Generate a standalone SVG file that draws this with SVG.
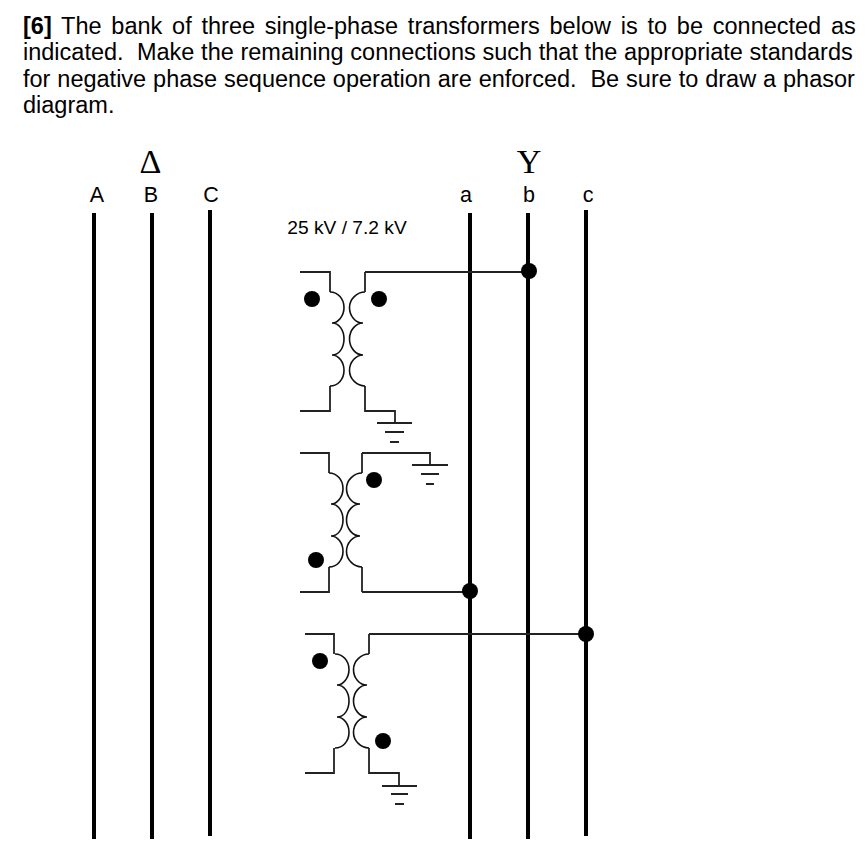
<svg xmlns="http://www.w3.org/2000/svg" width="868" height="867" viewBox="0 0 868 867">
<style>
text{font-family:"Liberation Sans",Arial,sans-serif;fill:#000}
.p{font-size:23.5px;white-space:pre}
.l{font-size:21.5px;text-anchor:middle}
.v{font-size:19.2px;text-anchor:middle}
.s{font-family:"Liberation Serif","Times New Roman",serif;font-size:34px;text-anchor:middle}
.bus{stroke:#000;stroke-width:4;fill:none}
.w{stroke:#222;stroke-width:1.8;fill:none}
.c{stroke:#111;stroke-width:1.6;fill:none}
</style>
<defs>
<path id="coil-left" class="c" d="M0 0c8 0 14 7 14 15.5c0 8.5-6 15.5-12 15.5c7 0 12 7 12 16c0 9-5 16-12 16c6.5 0 12 7 12 15.5c0 8.5-6 15.5-14 15.5"/>
<path id="coil-right" class="c" d="M0 0c-8 0-15.5 7-15.5 15.5c0 8.5 6 15.5 13.5 15.5c-7 0-13.5 7-13.5 16c0 9 6.5 16 13.5 16c-7 0-13.5 7-13.5 15.5c0 8.5 7.5 15.5 15.5 15.5"/>
</defs>
<rect width="868" height="867" fill="#fff"/>
<g id="question">
<text class="p" x="23" y="34" word-spacing="3.25"><tspan font-weight="bold">[6]</tspan> The bank of three single-phase transformers below is to be connected as</text>
<text class="p" x="23" y="60" word-spacing="0.15">indicated.  Make the remaining connections such that the appropriate standards</text>
<text class="p" x="23" y="87" word-spacing="0.38">for negative phase sequence operation are enforced.  Be sure to draw a phasor</text>
<text class="p" x="23" y="113">diagram.</text>
</g>
<g id="labels">
<text class="s" x="150.5" y="173">Δ</text>
<text class="s" x="529" y="173">Y</text>
<text class="l" x="97" y="202">A</text>
<text class="l" x="151" y="202">B</text>
<text class="l" x="211" y="202">C</text>
<text class="l" x="466" y="202">a</text>
<text class="l" x="529" y="202">b</text>
<text class="l" x="588" y="202">c</text>
<text class="v" x="347" y="234">25 kV / 7.2 kV</text>
</g>
<g id="connectors">
<path class="bus" d="M94 213V839M152 213V839M210 210V836M470 213V839M528 213V839M586 210V836"/>
<path class="w" d="M365 272H529M362 592H470M369 634H586"/>
</g>
<g id="transformer-1">
<path class="w" d="M300 272H330V292M300 411H330V386M365 272V292M365 386V411H395V423M377 423H412M385 432H404M390 442H399"/>
<use href="#coil-left" x="330" y="292"/><use href="#coil-right" x="365" y="292"/>
<circle cx="312" cy="299" r="8"/><circle cx="379" cy="299" r="8"/>
</g>
<g id="transformer-2">
<path class="w" d="M300 453H329V473M300 592H329V567M362 453V473M362 567V592M362 453H430V465M412 465H448M421 474H439M426 484H434"/>
<use href="#coil-left" x="329" y="473"/><use href="#coil-right" x="362" y="473"/>
<circle cx="374" cy="480" r="8"/><circle cx="316" cy="560" r="8"/>
</g>
<g id="transformer-3">
<path class="w" d="M305 634H334V654M305 773H334V748M369 634V654M369 748V773H399V786M382 786H417M391 794H408M395 804H404"/>
<use href="#coil-left" x="335" y="654"/><use href="#coil-right" x="369" y="654"/>
<circle cx="320" cy="661" r="8"/><circle cx="383" cy="741" r="8"/>
</g>
<g id="junctions">
<circle cx="529" cy="271" r="8"/><circle cx="470" cy="591" r="8"/><circle cx="586" cy="634" r="8"/>
</g>
</svg>
